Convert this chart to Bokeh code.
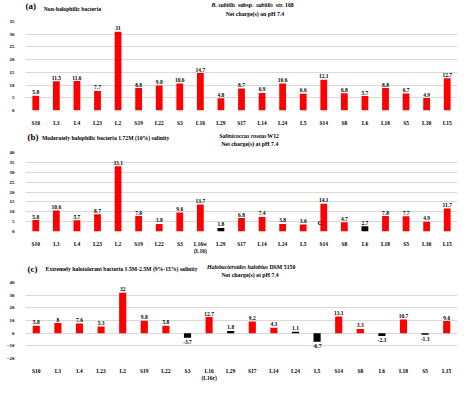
from bokeh.plotting import figure
from bokeh.models import Label, ColumnDataSource, FixedTicker, Range1d
from bokeh.layouts import column
from bokeh.embed import file_html
from bokeh.resources import INLINE
from bokeh.core.properties import value

# ---------------- data ----------------
cats_a = ["S10", "L3", "L4", "L23", "L2", "S19", "L22", "S3", "L16", "L29", "S17",
          "L14", "L24", "L5", "S14", "S8", "L6", "L18", "S5", "L30", "L15"]
vals_a = [5.8, 11.5, 11.6, 7.7, 31, 8.8, 9.8, 10.6, 14.7, 4.8, 8.7,
          6.9, 10.6, 6.6, 12.1, 6.8, 5.7, 8.8, 6.7, 4.9, 12.7]
black_a = []

cats_b = ["S10", "L3", "L4", "L23", "L2", "S19", "L22", "S3", "L16w\n(L16)", "L29", "S17",
          "L14", "L24", "L5", "S14", "S8", "L6", "L18", "S5", "L30", "L15"]
vals_b = [5.8, 10.6, 5.7, 8.7, 33.1, 7.8, 3.8, 9.6, 13.7, 1.8, 6.8,
          7.4, 3.8, 3.6, 14.1, 4.7, 2.7, 7.8, 7.7, 4.9, 11.7]
black_b = ["L29", "L6"]

cats_c = ["S10", "L3", "L4", "L23", "L2", "S19", "L22", "S3", "L16\n(L16r)", "L29", "S17",
          "L14", "L24", "L5", "S14", "S8", "L6", "L18", "S5", "L15"]
vals_c = [5.8, 8, 7.6, 5.3, 32, 9.8, 5.8, -3.7, 12.7, 1.8, 9.2,
          4.3, 1.1, -6.7, 13.1, 3.3, -2.3, 10.7, -1.3, 9.6]
black_c = ["S3", "L29", "L24", "L5", "L6", "S5"]

ticks_a = [0, 5, 10, 15, 20, 25, 30, 35]
ticks_b = [0, 5, 10, 15, 20, 25, 30, 35, 40]
ticks_c = [-20, -10, 0, 10, 20, 30, 40]

RED = "#ff0000"
BLACK = "#000000"
FONT = "Liberation Serif"
W = 458

# approximate Times-Bold advance widths (per 1000 em)
CW = {" ": 250, "(": 333, ")": 333, ".": 250, "-": 333, "%": 1000,
      "a": 500, "b": 556, "c": 444, "d": 556, "e": 444, "g": 500, "h": 556,
      "i": 278, "l": 278, "m": 833, "n": 556, "o": 500, "p": 556, "r": 444,
      "s": 389, "t": 333, "u": 556, "v": 500, "y": 500,
      "B": 667, "D": 722, "H": 778, "M": 944, "N": 722, "S": 556, "W": 1000}


def tw(s, fs):
    return sum(CW.get(ch, 500) for ch in s) * fs / 1000.0


def add_text(p, x, y, txt, fs, style="bold", align="left"):
    p.add_layout(Label(x=x, y=y, text=txt,
                       text_font=FONT, text_font_style=style,
                       text_font_size=f"{fs}px", text_color="black",
                       text_align=align, text_baseline="middle"))


def add_mixed(p, cx, y, segs, fs, pad=2.0):
    total = sum(tw(s, fs) for s, _ in segs) + pad * (len(segs) - 1)
    x = cx - total / 2.0
    for s, st in segs:
        lead = len(s) - len(s.lstrip(" "))
        core = s.strip(" ")
        add_text(p, x + tw(" " * lead, fs), y, core, fs, st)
        x += tw(s, fs) + pad


def header(hh):
    p = figure(width=W, height=hh, x_range=Range1d(0, W), y_range=Range1d(hh, 0),
               output_backend="svg", toolbar_location=None,
               min_border=0, min_border_left=0, min_border_right=0,
               min_border_top=0, min_border_bottom=0)
    p.axis.visible = False
    p.grid.grid_line_color = None
    p.outline_line_color = None
    return p


def panel(cats, vals, blacks, yr, ticks, H, T, B, L):
    p = figure(x_range=cats, y_range=Range1d(*yr), width=W, height=H,
               output_backend="svg", toolbar_location=None,
               min_border_left=L, min_border_right=1,
               min_border_top=T, min_border_bottom=B)
    p.outline_line_color = None
    p.xgrid.grid_line_color = None
    p.ygrid.grid_line_color = "#d9d9d9"
    p.ygrid.grid_line_width = 1
    p.yaxis.ticker = FixedTicker(ticks=ticks)
    for ax in (p.xaxis, p.yaxis):
        ax.axis_line_color = None
        ax.major_tick_line_color = None
        ax.minor_tick_line_color = None
        ax.major_label_text_font = FONT
        ax.major_label_text_font_style = "bold"
        ax.major_label_text_color = "black"
    p.yaxis.major_label_text_font_size = "5px"
    p.yaxis.major_label_standoff = 5
    p.xaxis.major_label_text_font_size = "5.5px"
    p.xaxis.major_label_standoff = 3

    keys = [c.split("\n")[0] for c in cats]
    colors = [BLACK if k in blacks else RED for k in keys]
    labels = [f"{v:g}" for v in vals]
    src = ColumnDataSource(dict(x=cats, top=vals, color=colors, label=labels))
    p.vbar(x="x", top="top", bottom=0, width=0.33, fill_color="color",
           line_color=None, source=src)

    pos = [i for i, v in enumerate(vals) if v >= 0]
    neg = [i for i, v in enumerate(vals) if v < 0]
    for idx, base, off in ((pos, "bottom", -1.5), (neg, "top", 2)):
        if not idx:
            continue
        s = ColumnDataSource(dict(x=[cats[i] for i in idx], y=[vals[i] for i in idx],
                                  t=[labels[i] for i in idx]))
        p.text(x="x", y="y", text="t", source=s, text_align="center",
               text_baseline=base, y_offset=off, text_font=value(FONT),
               text_font_style="bold", text_font_size="5.5px", text_color="black")
    return p


SUB = 5.7
TIT = 5.8

# ---------------- panel (a) ----------------
ha = header(17)
add_text(ha, 0, 5.0, "(a)", 9)
add_text(ha, 19.3, 8.6, "Non-halophilic bacteria", SUB)
add_mixed(ha, 240.5, 4.8,
          [("B. subtilis", "bold italic"), (" subsp. ", "bold"),
           ("subtilis", "bold italic"), (" str. 168", "bold")], TIT)
add_mixed(ha, 241.5, 13.9, [("Net charge(s) on pH 7.4", "bold")], TIT)
pa = panel(cats_a, vals_a, black_a, (0, 35), ticks_a, 111, 4, 17, 24)

# ---------------- panel (b) ----------------
hb = header(20)
add_text(hb, 2, 8.3, "(b)", 9)
add_text(hb, 17.4, 9.3, "Moderately halophilic bacteria  1.72M (10%) salinity", SUB)
add_mixed(hb, 236.7, 7.6,
          [("Salinicoccus roseus", "bold italic"), (" W12", "bold")], TIT)
add_mixed(hb, 236.0, 15.0, [("Net charge(s) at pH 7.4", "bold")], TIT)
pb = panel(cats_b, vals_b, black_b, (0, 40), ticks_b, 108, 4, 19, 24)
pb.add_layout(Label(x=316 - 24, y=8.5, x_units="screen", y_units="screen", text="C",
                    text_font=FONT, text_font_style="bold", text_font_size="7px",
                    text_color="black", text_baseline="middle"))

# ---------------- panel (c) ----------------
hc = header(22)
add_text(hc, 2, 12.8, "(c)", 9)
add_text(hc, 21.3, 12.8,
         "Extremely halotolerant bacteria 1.5M-2.5M (9%-15%) salinity", SUB)
add_mixed(hc, 238.5, 10.9,
          [("Halobacteroides halobius", "bold italic"), (" DSM 5150", "bold")], TIT)
add_mixed(hc, 236.5, 18.0, [("Net charge(s) at pH 7.4", "bold")], TIT)
pc = panel(cats_c, vals_c, black_c, (-20, 40), ticks_c, 105, 4, 15, 25)

layout = column(ha, pa, hb, pb, hc, pc, spacing=0)
open("out.html", "w").write(file_html(layout, INLINE))
